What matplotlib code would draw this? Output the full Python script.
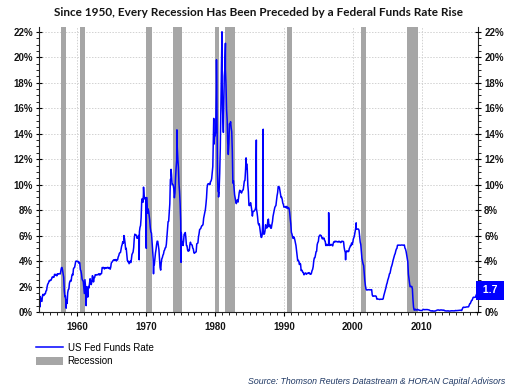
import numpy as np
import matplotlib
matplotlib.use("Agg")
import matplotlib.pyplot as plt
from matplotlib.ticker import MultipleLocator, FuncFormatter
import matplotlib.transforms as mtransforms

# monthly effective fed funds rate, Jul 1954 .. Mar 2018 (%)
fed_1950s = [0.80, 1.22, 1.07, 0.85, 0.83, 1.28,
             1.39, 1.29, 1.35, 1.43, 1.43, 1.64, 1.68, 1.96, 2.18, 2.24, 2.35, 2.48,
             2.45, 2.50, 2.50, 2.62, 2.75, 2.71, 2.75, 2.73, 2.95, 2.96, 2.88, 2.94,
             2.84, 3.00, 2.96, 3.00, 3.00, 3.00, 2.99, 3.24, 3.47, 3.50, 3.28, 2.98,
             2.72, 1.67, 1.20, 1.26, 0.63, 0.93, 0.68, 1.53, 1.76, 1.80, 2.27, 2.42,
             2.48, 2.43, 2.80, 2.96, 2.90, 3.39, 3.47, 3.50, 3.76, 3.98, 4.00, 3.99]
fed_1960s = [3.99, 3.97, 3.84, 3.92, 3.85, 3.32, 3.23, 2.98, 2.60, 2.47, 2.44, 1.98,
             1.45, 2.54, 2.02, 1.49, 1.98, 1.73, 1.17, 2.00, 1.88, 2.26, 2.61, 2.33,
             2.15, 2.37, 2.85, 2.78, 2.36, 2.68, 2.71, 2.93, 2.90, 2.90, 2.94, 2.93,
             2.92, 3.00, 2.98, 2.90, 3.00, 2.99, 3.02, 3.49, 3.48, 3.50, 3.48, 3.38,
             3.48, 3.48, 3.43, 3.47, 3.50, 3.50, 3.42, 3.50, 3.45, 3.36, 3.52, 3.85,
             3.90, 3.98, 4.04, 4.09, 4.10, 4.04, 4.09, 4.12, 4.01, 4.08, 4.10, 4.32,
             4.42, 4.60, 4.65, 4.67, 4.90, 5.17, 5.30, 5.53, 5.40, 5.53, 5.76, 5.40,
             4.94, 5.00, 4.53, 4.05, 3.94, 3.98, 3.79, 3.90, 3.99, 3.88, 4.13, 4.51,
             4.61, 4.71, 5.05, 5.76, 6.11, 6.07, 6.02, 6.03, 5.78, 5.91, 5.82, 6.02,
             6.30, 6.64, 6.79, 7.41, 8.67, 8.90, 8.61, 9.19, 9.15, 9.00, 8.85, 8.97]
fed_1970s = [8.98, 8.98, 7.76, 8.10, 7.95, 7.61, 7.21, 6.61, 6.29, 6.20, 5.60, 4.90,
             4.14, 3.72, 3.71, 4.16, 4.63, 4.91, 5.31, 5.56, 5.55, 5.20, 4.91, 4.14,
             3.50, 3.29, 3.83, 4.17, 4.27, 4.46, 4.55, 4.80, 4.87, 5.04, 5.06, 5.33,
             5.94, 6.58, 7.09, 7.12, 7.84, 8.49, 10.40, 10.50, 10.78, 10.01, 10.03, 9.95,
             9.65, 8.97, 9.35, 10.51, 11.31, 11.93, 12.92, 12.01, 11.34, 10.06, 9.45, 8.53,
             7.13, 6.24, 5.54, 5.49, 5.22, 5.55, 6.10, 6.14, 6.24, 5.82, 5.22, 5.20,
             4.87, 4.77, 4.84, 4.82, 5.29, 5.48, 5.31, 5.29, 5.25, 5.02, 4.95, 4.65,
             4.61, 4.68, 4.69, 4.73, 5.35, 5.39, 5.42, 5.90, 6.14, 6.47, 6.51, 6.56,
             6.70, 6.78, 6.79, 6.89, 7.36, 7.60, 7.81, 8.04, 8.45, 8.96, 9.76, 10.03,
             10.07, 10.06, 10.09, 10.01, 10.24, 10.29, 10.47, 10.94, 11.43, 13.77, 13.18, 13.78]
fed_1980s = [13.82, 14.13, 17.19, 17.61, 10.98, 9.47, 9.03, 9.61, 10.87, 12.81, 15.85, 18.90,
             19.08, 15.93, 14.70, 15.72, 18.52, 19.10, 19.04, 17.82, 15.87, 15.08, 13.31, 12.37,
             13.22, 14.78, 14.68, 14.94, 14.45, 14.15, 12.59, 10.12, 10.31, 9.71, 9.20, 8.95,
             8.68, 8.51, 8.77, 8.80, 8.63, 8.98, 9.37, 9.56, 9.45, 9.48, 9.34, 9.47,
             9.56, 9.59, 9.91, 10.29, 10.32, 11.06, 11.23, 11.64, 11.30, 9.99, 9.43, 8.38,
             8.35, 8.50, 8.58, 8.27, 7.97, 7.53, 7.88, 7.90, 7.92, 7.99, 8.05, 8.27,
             8.14, 7.86, 7.48, 6.99, 6.85, 6.92, 6.56, 6.17, 5.89, 5.85, 6.04, 6.91,
             6.43, 6.10, 6.13, 6.37, 6.85, 6.73, 6.58, 6.73, 7.22, 7.29, 6.69, 6.77,
             6.83, 6.58, 6.58, 6.87, 7.09, 7.51, 7.75, 8.01, 8.19, 8.30, 8.35, 8.76,
             9.12, 9.36, 9.85, 9.84, 9.81, 9.53, 9.24, 8.99, 9.02, 8.84, 8.55, 8.45]
fed_1990s = [8.23, 8.24, 8.28, 8.26, 8.18, 8.29, 8.15, 8.13, 8.20, 8.11, 7.81, 7.31,
             6.91, 6.25, 6.12, 5.91, 5.78, 5.90, 5.82, 5.66, 5.45, 5.21, 4.81, 4.43,
             4.03, 4.06, 3.98, 3.73, 3.82, 3.76, 3.25, 3.30, 3.22, 3.10, 3.09, 2.92,
             3.02, 3.03, 3.07, 2.96, 3.00, 3.04, 3.06, 3.03, 3.09, 2.99, 3.02, 2.96,
             3.05, 3.25, 3.34, 3.56, 4.01, 4.25, 4.26, 4.47, 4.73, 4.76, 5.29, 5.45,
             5.53, 5.92, 5.98, 6.05, 6.01, 6.00, 5.85, 5.74, 5.80, 5.76, 5.80, 5.60,
             5.56, 5.22, 5.31, 5.22, 5.24, 5.27, 5.40, 5.22, 5.30, 5.24, 5.31, 5.29,
             5.25, 5.19, 5.39, 5.51, 5.50, 5.56, 5.52, 5.54, 5.54, 5.50, 5.52, 5.50,
             5.56, 5.51, 5.49, 5.45, 5.49, 5.56, 5.54, 5.55, 5.51, 5.07, 4.83, 4.68,
             4.63, 4.76, 4.81, 4.74, 4.74, 4.76, 4.99, 5.07, 5.22, 5.20, 5.42, 5.30]
fed_2000s = [5.45, 5.73, 5.85, 6.02, 6.27, 6.53, 6.54, 6.50, 6.52, 6.51, 6.51, 6.40,
             5.98, 5.49, 5.31, 4.80, 4.21, 3.97, 3.77, 3.65, 3.07, 2.49, 2.09, 1.82,
             1.73, 1.74, 1.73, 1.75, 1.75, 1.75, 1.73, 1.74, 1.75, 1.75, 1.34, 1.24,
             1.24, 1.26, 1.25, 1.26, 1.26, 1.22, 1.01, 1.03, 1.01, 1.01, 1.00, 0.98,
             1.00, 1.01, 1.00, 1.00, 1.00, 1.03, 1.26, 1.43, 1.61, 1.76, 1.93, 2.16,
             2.28, 2.50, 2.63, 2.79, 3.00, 3.04, 3.26, 3.50, 3.62, 3.78, 4.00, 4.16,
             4.29, 4.49, 4.59, 4.79, 4.94, 4.99, 5.24, 5.25, 5.25, 5.25, 5.25, 5.24,
             5.25, 5.26, 5.26, 5.25, 5.25, 5.25, 5.26, 5.02, 4.94, 4.76, 4.49, 4.24,
             3.94, 2.98, 2.61, 2.28, 1.98, 2.00, 2.01, 2.00, 1.81, 0.97, 0.39, 0.16,
             0.15, 0.22, 0.18, 0.15, 0.18, 0.21, 0.16, 0.16, 0.15, 0.12, 0.12, 0.12]
fed_2010s = [0.11, 0.13, 0.16, 0.20, 0.20, 0.18, 0.18, 0.19, 0.19, 0.19, 0.19, 0.18,
             0.17, 0.16, 0.14, 0.10, 0.09, 0.09, 0.07, 0.10, 0.08, 0.07, 0.08, 0.07,
             0.08, 0.10, 0.13, 0.14, 0.16, 0.16, 0.16, 0.13, 0.14, 0.16, 0.16, 0.16,
             0.14, 0.15, 0.14, 0.15, 0.11, 0.09, 0.09, 0.08, 0.08, 0.09, 0.08, 0.09,
             0.07, 0.07, 0.08, 0.09, 0.09, 0.10, 0.09, 0.09, 0.09, 0.09, 0.09, 0.12,
             0.11, 0.11, 0.11, 0.12, 0.12, 0.13, 0.13, 0.14, 0.14, 0.12, 0.12, 0.24,
             0.34, 0.38, 0.36, 0.37, 0.37, 0.38, 0.39, 0.40, 0.40, 0.40, 0.41, 0.54,
             0.65, 0.66, 0.79, 0.90, 0.91, 1.04, 1.15, 1.16, 1.15, 1.15, 1.16, 1.30,
             1.41, 1.42, 1.68]

# short-lived weekly spikes
spike_dates = [1954.55, 1958.35, 1961.26, 1966.75, 1968.97, 1969.6, 1970.0, 1971.05,
               1972.1, 1973.6, 1974.45, 1975.05, 1979.8, 1980.2, 1980.5, 1981.0,
               1981.2, 1981.5, 1984.5, 1985.99, 1986.99, 1996.5, 1998.96, 2000.5]
spike_values = [0.4, 0.3, 0.5, 6.0, 4.1, 9.8, 5.0, 3.0,
                3.3, 11.2, 14.3, 3.9, 15.2, 19.8, 9.4, 22.0,
                14.1, 21.1, 12.1, 13.5, 14.35, 7.8, 4.1, 7.0]

rec_start = [1957.6, 1960.3, 1969.9, 1973.9, 1980.0, 1981.5, 1990.5, 2001.2, 2007.9]
rec_end = [1958.3, 1961.1, 1970.9, 1975.2, 1980.5, 1982.9, 1991.2, 2001.9, 2009.5]

last_value = 1.7
y_ticks = [0, 2, 4, 6, 8, 10, 12, 14, 16, 18, 20, 22]
right_ticks = [0, 4, 6, 8, 10, 12, 14, 16, 18, 20, 22]   # 2% is hidden by the value tag
x_ticks = [1960, 1970, 1980, 1990, 2000, 2010]

monthly = np.array(fed_1950s + fed_1960s + fed_1970s + fed_1980s + fed_1990s + fed_2000s + fed_2010s)
mdates = 1954.5 + np.arange(len(monthly)) / 12.0
dates = np.concatenate([mdates, spike_dates])
rates = np.concatenate([monthly, spike_values])
order = np.argsort(dates)
dates, rates = dates[order], rates[order]

plt.rcParams['font.family'] = ['Liberation Sans', 'DejaVu Sans']
txt = '#141414'
pct = FuncFormatter(lambda v, p: '%d%%' % v)

fig = plt.figure(figsize=(5.17, 3.87), dpi=100)
ax = fig.add_axes([39/517, 1-312/387, (478-39)/517, (312-26.7)/387])

for i, (s, e) in enumerate(zip(rec_start, rec_end)):
    ax.axvspan(s, e, color='#A6A6A6', lw=0, zorder=1,
               label='Recession' if i == 0 else None)
ax.plot(dates, rates, color='#0000FF', lw=1.1, zorder=2, label='US Fed Funds Rate')

ax.set_xlim(1954.41, 2018.2)
ax.set_ylim(0, 22.4)
ax.set_xticks(x_ticks)
ax.xaxis.set_minor_locator(MultipleLocator(1))
ax.set_yticks(y_ticks)
ax.yaxis.set_minor_locator(MultipleLocator(0.5))
ax.yaxis.set_major_formatter(pct)

ax.grid(True, which='major', color='#D2D2D2', linestyle=(0, (1.5, 1.5)), lw=0.7, zorder=0)
ax.set_axisbelow(True)
ax.tick_params(which='major', direction='inout', length=5, width=0.8,
               labelsize=7, labelcolor=txt, pad=2)
ax.tick_params(which='minor', direction='out', length=2.5, width=0.6)
ax.tick_params(axis='x', which='major', direction='out', length=3, pad=4)
for lab in ax.get_xticklabels() + ax.get_yticklabels():
    lab.set_fontweight('bold')
ax.spines['top'].set_visible(False)
for sp in ['left', 'right', 'bottom']:
    ax.spines[sp].set_linewidth(0.8)
    ax.spines[sp].set_color('#222222')

# right-hand percentage axis
ax2 = ax.twinx()
ax2.set_ylim(ax.get_ylim())
ax2.set_yticks(right_ticks)
ax2.yaxis.set_minor_locator(MultipleLocator(0.5))
ax2.yaxis.set_major_formatter(pct)
ax2.tick_params(which='major', direction='inout', length=5, width=0.8,
                labelsize=7, labelcolor=txt, pad=2)
ax2.tick_params(which='minor', direction='out', length=2.5, width=0.6)
for lab in ax2.get_yticklabels():
    lab.set_fontweight('bold')
for sp in ax2.spines.values():
    sp.set_visible(False)

# last value tag at the right axis
trans = mtransforms.blended_transform_factory(ax2.transAxes, ax2.transData)
ax2.text(1.004, last_value, ' %.1f ' % last_value, transform=trans, ha='left', va='center',
         color='white', fontsize=7.5, fontweight='bold', zorder=5, clip_on=False,
         bbox=dict(boxstyle='square,pad=0.4', fc='#0000FF', ec='none'))

fig.text(0.5, 1-12/387, 'Since 1950, Every Recession Has Been Preceded by a Federal Funds Rate Rise',
         ha='center', va='center', fontsize=8.5, fontweight='bold', color=txt,
         family=['Liberation Sans Narrow', 'Lato', 'DejaVu Sans'])

handles, labels = ax.get_legend_handles_labels()
hl = dict(zip(labels, handles))
fig.legend([hl['US Fed Funds Rate'], hl['Recession']], ['US Fed Funds Rate', 'Recession'],
           loc='upper left', bbox_to_anchor=(36/517, 1-343/387), frameon=False,
           fontsize=7, handlelength=2.8, handleheight=0.85, handletextpad=0.45,
           labelspacing=0.35, borderpad=0, borderaxespad=0)

fig.text(505/517, 1-381/387, 'Source: Thomson Reuters Datastream & HORAN Capital Advisors',
         ha='right', va='center', fontsize=6.3, style='italic', color='#1F3864')

fig.savefig('out.png', dpi=100)
